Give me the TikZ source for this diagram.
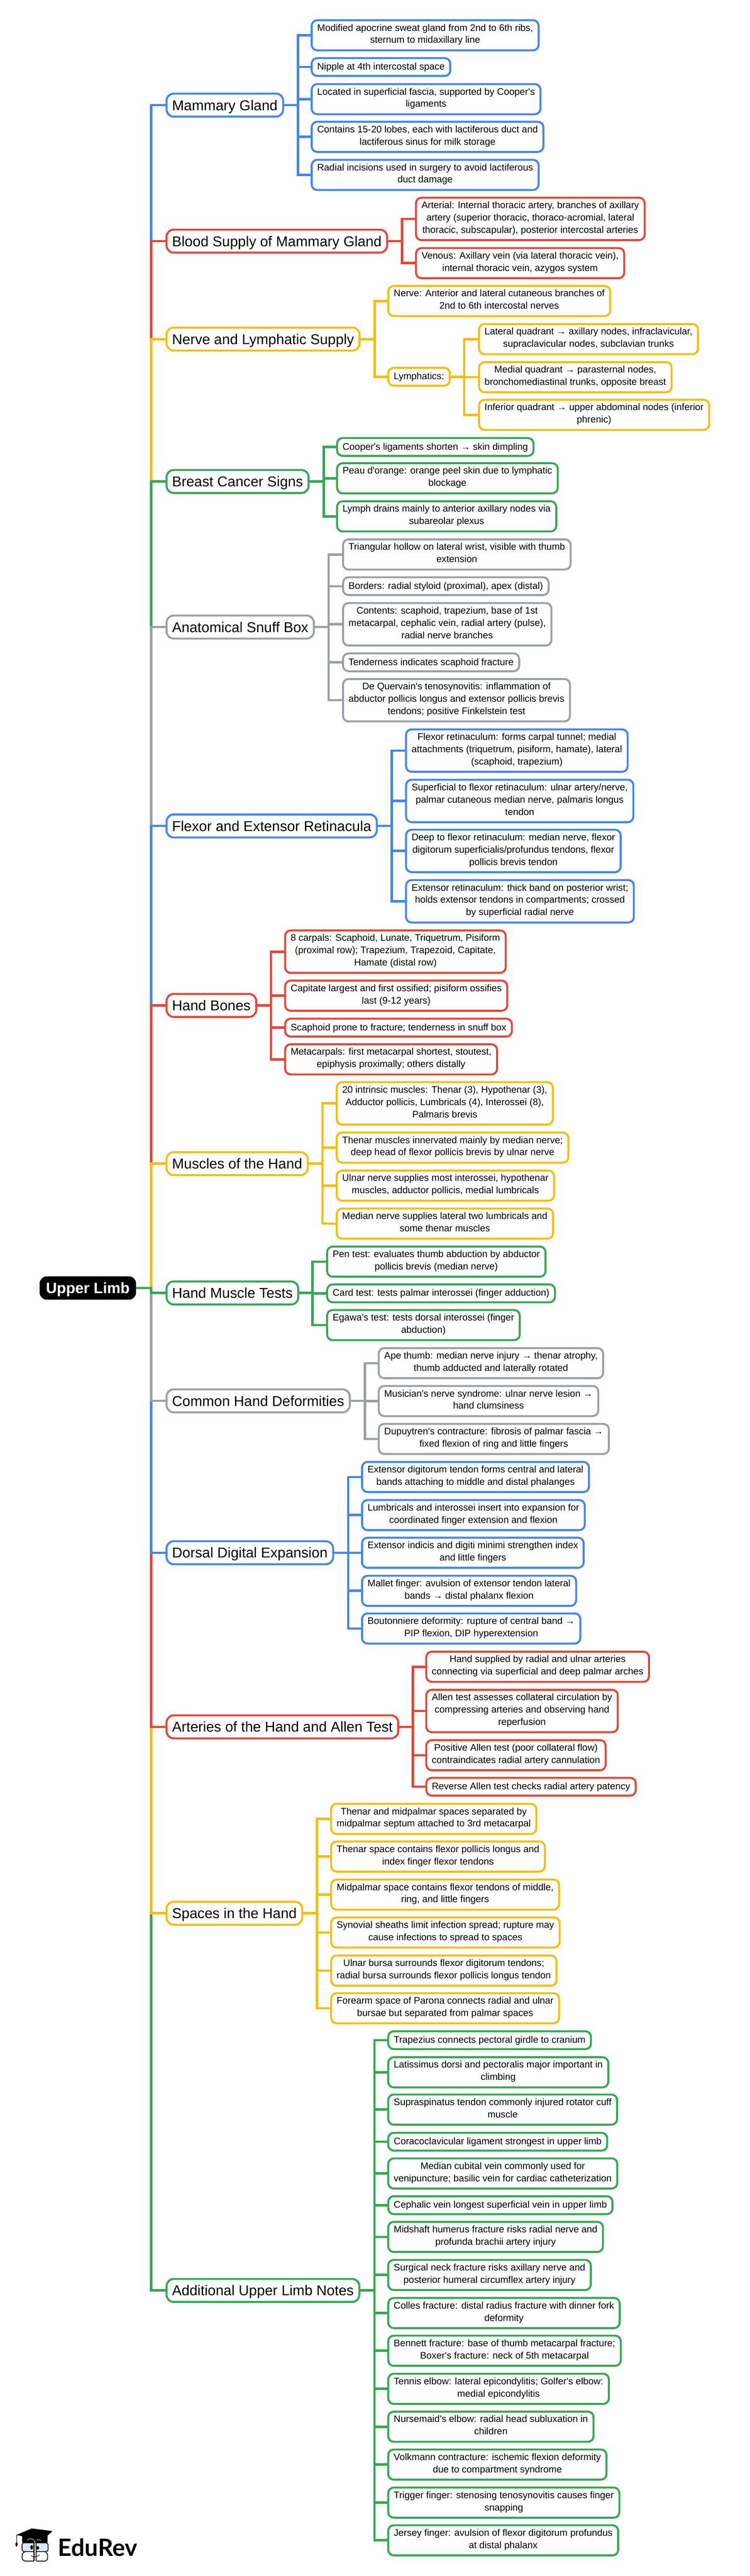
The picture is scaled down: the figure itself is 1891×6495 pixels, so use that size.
\documentclass[tikz,border=0pt]{standalone}
\usepackage{fontspec}
\setmainfont{Liberation Sans}[Ligatures=TeXOff]
\newfontfamily\logofont{Lato}
\usetikzlibrary{positioning}
\definecolor{limbblue}{HTML}{4285F4}
\definecolor{limbred}{HTML}{EA4335}
\definecolor{limbyellow}{HTML}{FBBC04}
\definecolor{limbgreen}{HTML}{34A853}
\definecolor{limbgray}{HTML}{9AA0A6}
\definecolor{logoglass}{HTML}{D5E8F5}
\newcommand{\leafstrut}{\rule[-8.3pt]{0pt}{31pt}}
\newcommand{\topicstrut}{\rule[-9pt]{0pt}{44pt}}

\begin{document}
\begin{tikzpicture}[
  x=1pt, y=-1pt,
  rootnode/.style={rectangle, fill=black, text=white, rounded corners=18pt, minimum height=59pt, inner xsep=16pt, inner ysep=0pt, outer sep=0pt, anchor=west, execute at begin node=\topicstrut, font=\fontsize{38}{44}\selectfont\bfseries},
  topicnode/.style={rectangle, fill=white, line width=5pt, rounded corners=18pt, minimum height=58pt, inner xsep=14pt, inner ysep=0pt, outer sep=0pt, anchor=west, execute at begin node=\topicstrut, font=\fontsize{36}{42}\selectfont},
  leafnode/.style={rectangle, fill=white, line width=5pt, rounded corners=14pt, minimum height=45pt, inner xsep=14pt, inner ysep=0pt, outer sep=0pt, anchor=west, align=center, execute at begin node=\leafstrut, execute at end node=\leafstrut, font=\fontsize{24}{31}\selectfont},
  twolines/.style={minimum height=76pt},
  threelines/.style={minimum height=107pt},
  conn/.style={line width=6pt},
]
\useasboundingbox (0,0) rectangle (1891,6495);

\node[rootnode] (root) at (100,3247.5) {Upper Limb};

% Mammary Gland
\node[topicnode, draw=limbblue] (mg) at (420,265) {Mammary Gland};
\node[leafnode, twolines, draw=limbblue] (mg1) at (786,89) {Modified apocrine sweat gland from 2nd to 6th ribs,\\sternum to midaxillary line};
\node[leafnode, draw=limbblue] (mg2) at (786,169) {Nipple at 4th intercostal space};
\node[leafnode, twolines, draw=limbblue] (mg3) at (786,250) {Located in superficial fascia, supported by Cooper's\\ligaments};
\node[leafnode, twolines, draw=limbblue] (mg4) at (786,345) {Contains 15-20 lobes, each with lactiferous duct and\\lactiferous sinus for milk storage};
\node[leafnode, twolines, draw=limbblue] (mg5) at (786,441) {Radial incisions used in surgery to avoid lactiferous\\duct damage};
\draw[conn, limbblue] (mg.east) -- ++(37,0) |- (mg1.west);
\draw[conn, limbblue] (mg.east) -- ++(37,0) |- (mg2.west);
\draw[conn, limbblue] (mg.east) -- ++(37,0) |- (mg3.west);
\draw[conn, limbblue] (mg.east) -- ++(37,0) |- (mg4.west);
\draw[conn, limbblue] (mg.east) -- ++(37,0) |- (mg5.west);

% Blood Supply
\node[topicnode, draw=limbred] (bs) at (420,608) {Blood Supply of Mammary Gland};
\node[leafnode, threelines, draw=limbred] (bs1) at (1049,552) {Arterial: Internal thoracic artery, branches of axillary\\artery (superior thoracic, thoraco-acromial, lateral\\thoracic, subscapular), posterior intercostal arteries};
\node[leafnode, twolines, draw=limbred] (bs2) at (1049,663.5) {Venous: Axillary vein (via lateral thoracic vein),\\internal thoracic vein, azygos system};
\draw[conn, limbred] (bs.east) -- ++(38,0) |- (bs1.west);
\draw[conn, limbred] (bs.east) -- ++(38,0) |- (bs2.west);

% Nerve and Lymphatic Supply
\node[topicnode, draw=limbyellow] (nl) at (420,855) {Nerve and Lymphatic Supply};
\node[leafnode, twolines, draw=limbyellow] (nl1) at (979,759) {Nerve: Anterior and lateral cutaneous branches of\\2nd to 6th intercostal nerves};
\node[leafnode, draw=limbyellow] (nl2) at (979,950) {Lymphatics:};
\node[leafnode, twolines, draw=limbyellow] (ly1) at (1208,855) {Lateral quadrant → axillary nodes, infraclavicular,\\supraclavicular nodes, subclavian trunks};
\node[leafnode, twolines, draw=limbyellow] (ly2) at (1208,951) {Medial quadrant → parasternal nodes,\\bronchomediastinal trunks, opposite breast};
\node[leafnode, twolines, draw=limbyellow] (ly3) at (1208,1046) {Inferior quadrant → upper abdominal nodes (inferior\\phrenic)};
\draw[conn, limbyellow] (nl.east) -- ++(38,0) |- (nl1.west);
\draw[conn, limbyellow] (nl.east) -- ++(38,0) |- (nl2.west);
\draw[conn, limbyellow] (nl2.east) -- ++(36,0) |- (ly1.west);
\draw[conn, limbyellow] (nl2.east) -- ++(36,0) |- (ly2.west);
\draw[conn, limbyellow] (nl2.east) -- ++(36,0) |- (ly3.west);

% Breast Cancer Signs
\node[topicnode, draw=limbgreen] (bc) at (420,1214) {Breast Cancer Signs};
\node[leafnode, draw=limbgreen] (bc1) at (850,1127) {Cooper's ligaments shorten → skin dimpling};
\node[leafnode, twolines, draw=limbgreen] (bc2) at (850,1206) {Peau d'orange: orange peel skin due to lymphatic\\blockage};
\node[leafnode, twolines, draw=limbgreen] (bc3) at (850,1302) {Lymph drains mainly to anterior axillary nodes via\\subareolar plexus};
\draw[conn, limbgreen] (bc.east) -- ++(38,0) |- (bc1.west);
\draw[conn, limbgreen] (bc.east) -- ++(38,0) |- (bc2.west);
\draw[conn, limbgreen] (bc.east) -- ++(38,0) |- (bc3.west);

% Anatomical Snuff Box
\node[topicnode, draw=limbgray] (sb) at (420,1581) {Anatomical Snuff Box};
\node[leafnode, twolines, draw=limbgray] (sb1) at (865,1398) {Triangular hollow on lateral wrist, visible with thumb\\extension};
\node[leafnode, draw=limbgray] (sb2) at (865,1478) {Borders: radial styloid (proximal), apex (distal)};
\node[leafnode, threelines, draw=limbgray] (sb3) at (865,1574) {Contents: scaphoid, trapezium, base of 1st\\metacarpal, cephalic vein, radial artery (pulse),\\radial nerve branches};
\node[leafnode, draw=limbgray] (sb4) at (865,1670) {Tenderness indicates scaphoid fracture};
\node[leafnode, threelines, draw=limbgray] (sb5) at (865,1765.5) {De Quervain's tenosynovitis: inflammation of\\abductor pollicis longus and extensor pollicis brevis\\tendons; positive Finkelstein test};
\draw[conn, limbgray] (sb.east) -- ++(37,0) |- (sb1.west);
\draw[conn, limbgray] (sb.east) -- ++(37,0) |- (sb2.west);
\draw[conn, limbgray] (sb.east) -- ++(37,0) |- (sb3.west);
\draw[conn, limbgray] (sb.east) -- ++(37,0) |- (sb4.west);
\draw[conn, limbgray] (sb.east) -- ++(37,0) |- (sb5.west);

% Flexor and Extensor Retinacula
\node[topicnode, draw=limbblue] (fr) at (420,2082.5) {Flexor and Extensor Retinacula};
\node[leafnode, threelines, draw=limbblue] (fr1) at (1024,1892.5) {Flexor retinaculum: forms carpal tunnel; medial\\attachments (triquetrum, pisiform, hamate), lateral\\(scaphoid, trapezium)};
\node[leafnode, threelines, draw=limbblue] (fr2) at (1024,2019.5) {Superficial to flexor retinaculum: ulnar artery/nerve,\\palmar cutaneous median nerve, palmaris longus\\tendon};
\node[leafnode, threelines, draw=limbblue] (fr3) at (1024,2145.5) {Deep to flexor retinaculum: median nerve, flexor\\digitorum superficialis/profundus tendons, flexor\\pollicis brevis tendon};
\node[leafnode, threelines, draw=limbblue] (fr4) at (1024,2272.5) {Extensor retinaculum: thick band on posterior wrist;\\holds extensor tendons in compartments; crossed\\by superficial radial nerve};
\draw[conn, limbblue] (fr.east) -- ++(37.5,0) |- (fr1.west);
\draw[conn, limbblue] (fr.east) -- ++(37.5,0) |- (fr2.west);
\draw[conn, limbblue] (fr.east) -- ++(37.5,0) |- (fr3.west);
\draw[conn, limbblue] (fr.east) -- ++(37.5,0) |- (fr4.west);

% Hand Bones
\node[topicnode, draw=limbred] (hb) at (420,2535) {Hand Bones};
\node[leafnode, threelines, draw=limbred] (hb1) at (719,2399.5) {8 carpals: Scaphoid, Lunate, Triquetrum, Pisiform\\(proximal row); Trapezium, Trapezoid, Capitate,\\Hamate (distal row)};
\node[leafnode, twolines, draw=limbred] (hb2) at (719,2510.5) {Capitate largest and first ossified; pisiform ossifies\\last (9-12 years)};
\node[leafnode, draw=limbred] (hb3) at (719,2591) {Scaphoid prone to fracture; tenderness in snuff box};
\node[leafnode, twolines, draw=limbred] (hb4) at (719,2671) {Metacarpals: first metacarpal shortest, stoutest,\\epiphysis proximally; others distally};
\draw[conn, limbred] (hb.east) -- ++(37,0) |- (hb1.west);
\draw[conn, limbred] (hb.east) -- ++(37,0) |- (hb2.west);
\draw[conn, limbred] (hb.east) -- ++(37,0) |- (hb3.west);
\draw[conn, limbred] (hb.east) -- ++(37,0) |- (hb4.west);

% Muscles of the Hand
\node[topicnode, draw=limbyellow] (mh) at (420,2934) {Muscles of the Hand};
\node[leafnode, threelines, draw=limbyellow] (mh1) at (849,2782) {20 intrinsic muscles: Thenar (3), Hypothenar (3),\\Adductor pollicis, Lumbricals (4), Interossei (8),\\Palmaris brevis};
\node[leafnode, twolines, draw=limbyellow] (mh2) at (849,2893.5) {Thenar muscles innervated mainly by median nerve;\\deep head of flexor pollicis brevis by ulnar nerve};
\node[leafnode, twolines, draw=limbyellow] (mh3) at (849,2989.5) {Ulnar nerve supplies most interossei, hypothenar\\muscles, adductor pollicis, medial lumbricals};
\node[leafnode, twolines, draw=limbyellow] (mh4) at (849,3085) {Median nerve supplies lateral two lumbricals and\\some thenar muscles};
\draw[conn, limbyellow] (mh.east) -- ++(37,0) |- (mh1.west);
\draw[conn, limbyellow] (mh.east) -- ++(37,0) |- (mh2.west);
\draw[conn, limbyellow] (mh.east) -- ++(37,0) |- (mh3.west);
\draw[conn, limbyellow] (mh.east) -- ++(37,0) |- (mh4.west);

% Hand Muscle Tests
\node[topicnode, draw=limbgreen] (ht) at (420,3260) {Hand Muscle Tests};
\node[leafnode, twolines, draw=limbgreen] (ht1) at (825,3181) {Pen test: evaluates thumb abduction by abductor\\pollicis brevis (median nerve)};
\node[leafnode, draw=limbgreen] (ht2) at (825,3261) {Card test: tests palmar interossei (finger adduction)};
\node[leafnode, twolines, draw=limbgreen] (ht3) at (825,3341) {Egawa's test: tests dorsal interossei (finger\\abduction)};
\draw[conn, limbgreen] (ht.east) -- ++(36,0) |- (ht1.west);
\draw[conn, limbgreen] (ht.east) -- ++(36,0) |- (ht2.west);
\draw[conn, limbgreen] (ht.east) -- ++(36,0) |- (ht3.west);

% Common Hand Deformities
\node[topicnode, draw=limbgray] (cd) at (420,3532) {Common Hand Deformities};
\node[leafnode, twolines, draw=limbgray] (cd1) at (955,3437) {Ape thumb: median nerve injury → thenar atrophy,\\thumb adducted and laterally rotated};
\node[leafnode, twolines, draw=limbgray] (cd2) at (955,3532.5) {Musician's nerve syndrome: ulnar nerve lesion →\\hand clumsiness};
\node[leafnode, twolines, draw=limbgray] (cd3) at (955,3628) {Dupuytren's contracture: fibrosis of palmar fascia →\\fixed flexion of ring and little fingers};
\draw[conn, limbgray] (cd.east) -- ++(38,0) |- (cd1.west);
\draw[conn, limbgray] (cd.east) -- ++(38,0) |- (cd2.west);
\draw[conn, limbgray] (cd.east) -- ++(38,0) |- (cd3.west);

% Dorsal Digital Expansion
\node[topicnode, draw=limbblue] (dd) at (420,3915) {Dorsal Digital Expansion};
\node[leafnode, twolines, draw=limbblue] (dd1) at (913,3724) {Extensor digitorum tendon forms central and lateral\\bands attaching to middle and distal phalanges};
\node[leafnode, twolines, draw=limbblue] (dd2) at (913,3820) {Lumbricals and interossei insert into expansion for\\coordinated finger extension and flexion};
\node[leafnode, twolines, draw=limbblue] (dd3) at (913,3915) {Extensor indicis and digiti minimi strengthen index\\and little fingers};
\node[leafnode, twolines, draw=limbblue] (dd4) at (913,4011) {Mallet finger: avulsion of extensor tendon lateral\\bands → distal phalanx flexion};
\node[leafnode, twolines, draw=limbblue] (dd5) at (913,4106) {Boutonniere deformity: rupture of central band →\\PIP flexion, DIP hyperextension};
\draw[conn, limbblue] (dd.east) -- ++(38,0) |- (dd1.west);
\draw[conn, limbblue] (dd.east) -- ++(38,0) |- (dd2.west);
\draw[conn, limbblue] (dd.east) -- ++(38,0) |- (dd3.west);
\draw[conn, limbblue] (dd.east) -- ++(38,0) |- (dd4.west);
\draw[conn, limbblue] (dd.east) -- ++(38,0) |- (dd5.west);

% Arteries of the Hand and Allen Test
\node[topicnode, draw=limbred] (ah) at (420,4354) {Arteries of the Hand and Allen Test};
\node[leafnode, twolines, draw=limbred] (ah1) at (1075,4202.5) {Hand supplied by radial and ulnar arteries\\connecting via superficial and deep palmar arches};
\node[leafnode, threelines, draw=limbred] (ah2) at (1075,4314) {Allen test assesses collateral circulation by\\compressing arteries and observing hand\\reperfusion};
\node[leafnode, twolines, draw=limbred] (ah3) at (1075,4425.5) {Positive Allen test (poor collateral flow)\\contraindicates radial artery cannulation};
\node[leafnode, draw=limbred] (ah4) at (1075,4505) {Reverse Allen test checks radial artery patency};
\draw[conn, limbred] (ah.east) -- ++(37,0) |- (ah1.west);
\draw[conn, limbred] (ah.east) -- ++(37,0) |- (ah2.west);
\draw[conn, limbred] (ah.east) -- ++(37,0) |- (ah3.west);
\draw[conn, limbred] (ah.east) -- ++(37,0) |- (ah4.west);

% Spaces in the Hand
\node[topicnode, draw=limbyellow] (sh) at (420,4824) {Spaces in the Hand};
\node[leafnode, twolines, draw=limbyellow] (sh1) at (835,4586) {Thenar and midpalmar spaces separated by\\midpalmar septum attached to 3rd metacarpal};
\node[leafnode, twolines, draw=limbyellow] (sh2) at (835,4681) {Thenar space contains flexor pollicis longus and\\index finger flexor tendons};
\node[leafnode, twolines, draw=limbyellow] (sh3) at (835,4777) {Midpalmar space contains flexor tendons of middle,\\ring, and little fingers};
\node[leafnode, twolines, draw=limbyellow] (sh4) at (835,4872.5) {Synovial sheaths limit infection spread; rupture may\\cause infections to spread to spaces};
\node[leafnode, twolines, draw=limbyellow] (sh5) at (835,4968.5) {Ulnar bursa surrounds flexor digitorum tendons;\\radial bursa surrounds flexor pollicis longus tendon};
\node[leafnode, twolines, draw=limbyellow] (sh6) at (835,5063.5) {Forearm space of Parona connects radial and ulnar\\bursae but separated from palmar spaces};
\draw[conn, limbyellow] (sh.east) -- ++(37,0) |- (sh1.west);
\draw[conn, limbyellow] (sh.east) -- ++(37,0) |- (sh2.west);
\draw[conn, limbyellow] (sh.east) -- ++(37,0) |- (sh3.west);
\draw[conn, limbyellow] (sh.east) -- ++(37,0) |- (sh4.west);
\draw[conn, limbyellow] (sh.east) -- ++(37,0) |- (sh5.west);
\draw[conn, limbyellow] (sh.east) -- ++(37,0) |- (sh6.west);

% Additional Upper Limb Notes
\node[topicnode, draw=limbgreen] (an) at (420,5775) {Additional Upper Limb Notes};
\node[leafnode, draw=limbgreen] (an1) at (979,5144) {Trapezius connects pectoral girdle to cranium};
\node[leafnode, twolines, draw=limbgreen] (an2) at (979,5225) {Latissimus dorsi and pectoralis major important in\\climbing};
\node[leafnode, twolines, draw=limbgreen] (an3) at (979,5319) {Supraspinatus tendon commonly injured rotator cuff\\muscle};
\node[leafnode, draw=limbgreen] (an4) at (979,5400) {Coracoclavicular ligament strongest in upper limb};
\node[leafnode, twolines, draw=limbgreen] (an5) at (979,5480) {Median cubital vein commonly used for\\venipuncture; basilic vein for cardiac catheterization};
\node[leafnode, draw=limbgreen] (an6) at (979,5560) {Cephalic vein longest superficial vein in upper limb};
\node[leafnode, twolines, draw=limbgreen] (an7) at (979,5640) {Midshaft humerus fracture risks radial nerve and\\profunda brachii artery injury};
\node[leafnode, twolines, draw=limbgreen] (an8) at (979,5736) {Surgical neck fracture risks axillary nerve and\\posterior humeral circumflex artery injury};
\node[leafnode, twolines, draw=limbgreen] (an9) at (979,5832) {Colles fracture: distal radius fracture with dinner fork\\deformity};
\node[leafnode, twolines, draw=limbgreen] (an10) at (979,5927) {Bennett fracture: base of thumb metacarpal fracture;\\Boxer's fracture: neck of 5th metacarpal};
\node[leafnode, twolines, draw=limbgreen] (an11) at (979,6023) {Tennis elbow: lateral epicondylitis; Golfer's elbow:\\medial epicondylitis};
\node[leafnode, twolines, draw=limbgreen] (an12) at (979,6118.5) {Nursemaid's elbow: radial head subluxation in\\children};
\node[leafnode, twolines, draw=limbgreen] (an13) at (979,6214) {Volkmann contracture: ischemic flexion deformity\\due to compartment syndrome};
\node[leafnode, twolines, draw=limbgreen] (an14) at (979,6310) {Trigger finger: stenosing tenosynovitis causes finger\\snapping};
\node[leafnode, twolines, draw=limbgreen] (an15) at (979,6405) {Jersey finger: avulsion of flexor digitorum profundus\\at distal phalanx};
\draw[conn, limbgreen] (an.east) -- ++(38,0) |- (an1.west);
\draw[conn, limbgreen] (an.east) -- ++(38,0) |- (an2.west);
\draw[conn, limbgreen] (an.east) -- ++(38,0) |- (an3.west);
\draw[conn, limbgreen] (an.east) -- ++(38,0) |- (an4.west);
\draw[conn, limbgreen] (an.east) -- ++(38,0) |- (an5.west);
\draw[conn, limbgreen] (an.east) -- ++(38,0) |- (an6.west);
\draw[conn, limbgreen] (an.east) -- ++(38,0) |- (an7.west);
\draw[conn, limbgreen] (an.east) -- ++(38,0) |- (an8.west);
\draw[conn, limbgreen] (an.east) -- ++(38,0) |- (an9.west);
\draw[conn, limbgreen] (an.east) -- ++(38,0) |- (an10.west);
\draw[conn, limbgreen] (an.east) -- ++(38,0) |- (an11.west);
\draw[conn, limbgreen] (an.east) -- ++(38,0) |- (an12.west);
\draw[conn, limbgreen] (an.east) -- ++(38,0) |- (an13.west);
\draw[conn, limbgreen] (an.east) -- ++(38,0) |- (an14.west);
\draw[conn, limbgreen] (an.east) -- ++(38,0) |- (an15.west);

% Trunk from the root, upper branches
\draw[conn, limbblue] (root.east) -- ++(38,0) |- (mg.west);
\draw[conn, limbred] (root.east) -- ++(38,0) |- (bs.west);
\draw[conn, limbyellow] (root.east) -- ++(38,0) |- (nl.west);
\draw[conn, limbgreen] (root.east) -- ++(38,0) |- (bc.west);
\draw[conn, limbgray] (root.east) -- ++(38,0) |- (sb.west);
\draw[conn, limbblue] (root.east) -- ++(38,0) |- (fr.west);
\draw[conn, limbred] (root.east) -- ++(38,0) |- (hb.west);
\draw[conn, limbyellow] (root.east) -- ++(38,0) |- (mh.west);

% Trunk from the root, lower branches
\draw[conn, limbgreen] (root.east) -- ++(38,0) |- (an.west);
\draw[conn, limbyellow] (root.east) -- ++(38,0) |- (sh.west);
\draw[conn, limbred] (root.east) -- ++(38,0) |- (ah.west);
\draw[conn, limbblue] (root.east) -- ++(38,0) |- (dd.west);
\draw[conn, limbgray] (root.east) -- ++(38,0) |- (cd.west);
\draw[conn, limbgreen] (root.east) -- ++(38,0) |- (ht.west);

% Logo
\node[anchor=base west, inner sep=0pt, font=\fontsize{60}{60}\selectfont\logofont\bfseries] (edurev) at (146,6445) {EduRev};
\begin{scope}[shift={(20,6350)}, x=0.3333pt, y=-0.3333pt]
  \fill (108,135) -- (108,182) -- (300,182) -- (300,125) -- cycle;
  \fill (62,125) -- (180,75) -- (338,95) -- (262,162) -- cycle;
  \draw[line width=1.3pt] (66,125) -- (66,182);
  \fill (66,178) .. controls (52,185) and (55,200) .. (65,215) .. controls (75,200) and (78,185) .. (66,178) -- cycle;
  \draw[white, line width=1pt] (145,164) .. controls (160,148) and (180,148) .. (200,166);
  \draw[white, line width=1pt] (218,166) .. controls (228,158) and (238,158) .. (250,168);
  \draw[line width=2pt, fill=logoglass, rounded corners=5pt] (107,184) rectangle (304,250);
  \draw[line width=2pt, rounded corners=8pt] (197,322) -- (108,322) -- (108,254) -- (125,252);
  \draw[line width=2pt, rounded corners=8pt] (215,322) -- (300,322) -- (300,254) -- (285,252);
  \fill[white] (197,175) rectangle (213,322);
  \draw[line width=2pt] (197,184) -- (197,322);
  \draw[line width=2pt] (213,175) -- (213,322) (197,184) -- (225,176);
  \fill (180,218) ellipse (11 and 17);
  \fill (226,222) ellipse (10 and 14);
  \draw[line width=1.3pt] (175,280) .. controls (190,295) and (215,295) .. (238,275);
\end{scope}

\end{tikzpicture}
\end{document}
